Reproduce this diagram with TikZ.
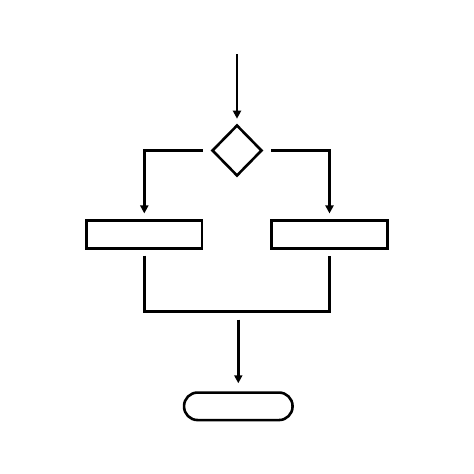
\documentclass[tikz,border=0pt]{standalone}
\usetikzlibrary{shapes.geometric,arrows.meta}
\begin{document}
\begin{tikzpicture}[x=1pt,y=-1pt,line width=2.6pt,
  conn/.style={draw=black,line width=2.6pt},
  arr/.style={conn,-{Triangle[length=8pt,width=8pt]}},
  procbox/.style={draw,rectangle,minimum width=115.5pt,minimum height=27.5pt,inner sep=0pt},
  decbox/.style={draw,diamond,minimum width=50pt,minimum height=51pt,inner sep=0pt},
  termbox/.style={draw,rectangle,rounded corners=13.5pt,minimum width=108.5pt,minimum height=27.5pt,inner sep=0pt}]
\fill[white] (0,0) rectangle (474,474);
\useasboundingbox (0,0) rectangle (474,474);
\coordinate (s) at (237,54);
\node[decbox] (d) at (237,150.5) {};
\node[procbox] (l) at (144.3,234.5) {};
\node[procbox] (r) at (329.5,234.5) {};
\coordinate (j) at (237,311.7);
\node[termbox] (t) at (238.3,406.3) {};
\draw[arr,shorten >=5pt] (s) -- (d.north);
\draw[arr,shorten <=8pt,shorten >=6pt] (d.west) -| (l.north);
\draw[arr,shorten <=8pt,shorten >=6pt] (d.east) -| (r.north);
\draw[conn,shorten <=6pt,shorten >=6pt] (l.south) |- (j) -| (r.south);
\draw[arr,shorten <=8pt,shorten >=8pt] (j -| t.north) -- (t.north);
\end{tikzpicture}
\end{document}
